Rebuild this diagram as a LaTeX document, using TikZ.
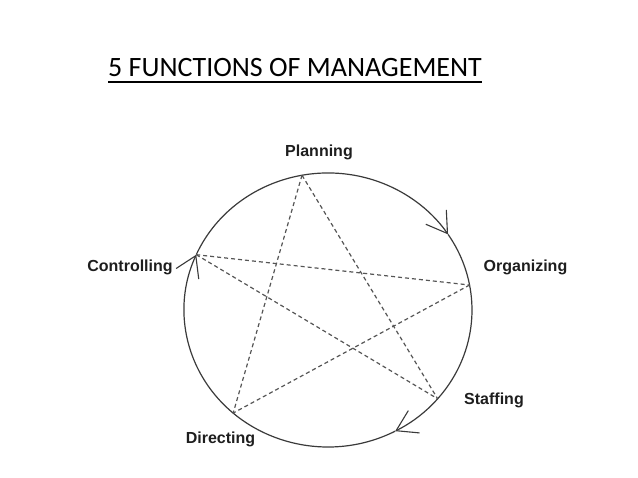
\documentclass[tikz,border=0pt]{standalone}
\usepackage{fontspec}
\setmainfont{Liberation Sans}
\newfontfamily\titlefont{Carlito}
\usetikzlibrary{arrows.meta,calc}
\definecolor{inkc}{HTML}{1E1E1E}
\definecolor{circc}{HTML}{3A3A3A}
\definecolor{dashc}{HTML}{555555}
\tikzset{
  lbl/.style={inner sep=0pt, text=inkc, font=\bfseries\fontsize{16}{19}\selectfont},
  circline/.style={draw=circc, line width=1.2pt},
  flowarrow/.style={-{Straight Barb[length=20pt, width=25pt, line width=1.1pt]}},
  star/.style={draw=dashc, line width=1.2pt, dash pattern=on 4pt off 3pt},
}
\begin{document}
\begin{tikzpicture}[x=1pt,y=1pt]
\useasboundingbox (0,0) rectangle (638,478);
\coordinate (ctr) at (328,168);
% title
\node[inner sep=0pt, anchor=base west, text=black, font=\titlefont\fontsize{28}{34}\selectfont] (title) at (108,401) {5 FUNCTIONS OF MANAGEMENT};
\draw[black, line width=1.5pt] ([yshift=-5pt]title.base west) -- ([yshift=-5pt]title.base east);
% vertices
\coordinate (P) at ($(ctr)+(100.4:144pt and 137pt)$);
\coordinate (O) at ($(ctr)+(10.5:144pt and 137pt)$);
\coordinate (S) at ($(ctr)+(-40.4:144pt and 137pt)$);
\coordinate (D) at ($(ctr)+(228.8:144pt and 137pt)$);
\coordinate (C) at ($(ctr)+(156.2:144pt and 137pt)$);
\coordinate (A1) at ($(ctr)+(33.5:144pt and 137pt)$);
\coordinate (A2) at ($(ctr)+(-62.2:144pt and 137pt)$);
% circle with arrows
\draw[circline, flowarrow] (C) arc[start angle=156.2, end angle=33.5, x radius=144pt, y radius=137pt];
\draw[circline, flowarrow] (A1) arc[start angle=33.5, end angle=-62.2, x radius=144pt, y radius=137pt];
\draw[circline, flowarrow] (A2) arc[start angle=-62.2, end angle=-203.8, x radius=144pt, y radius=137pt];
% star
\draw[star] (P) -- (D);
\draw[star] (P) -- (S);
\draw[star] (C) -- (O);
\draw[star] (C) -- (S);
\draw[star] (O) -- (D);
% labels
\node[lbl] (planning) at (319,326) {Planning};
\node[lbl] (controlling) at (130,211) {Controlling};
\node[lbl] (organizing) at (525.5,211) {Organizing};
\node[lbl] (staffing) at (494,78) {Staffing};
\node[lbl] (directing) at (220.5,39) {Directing};
\end{tikzpicture}
\end{document}
